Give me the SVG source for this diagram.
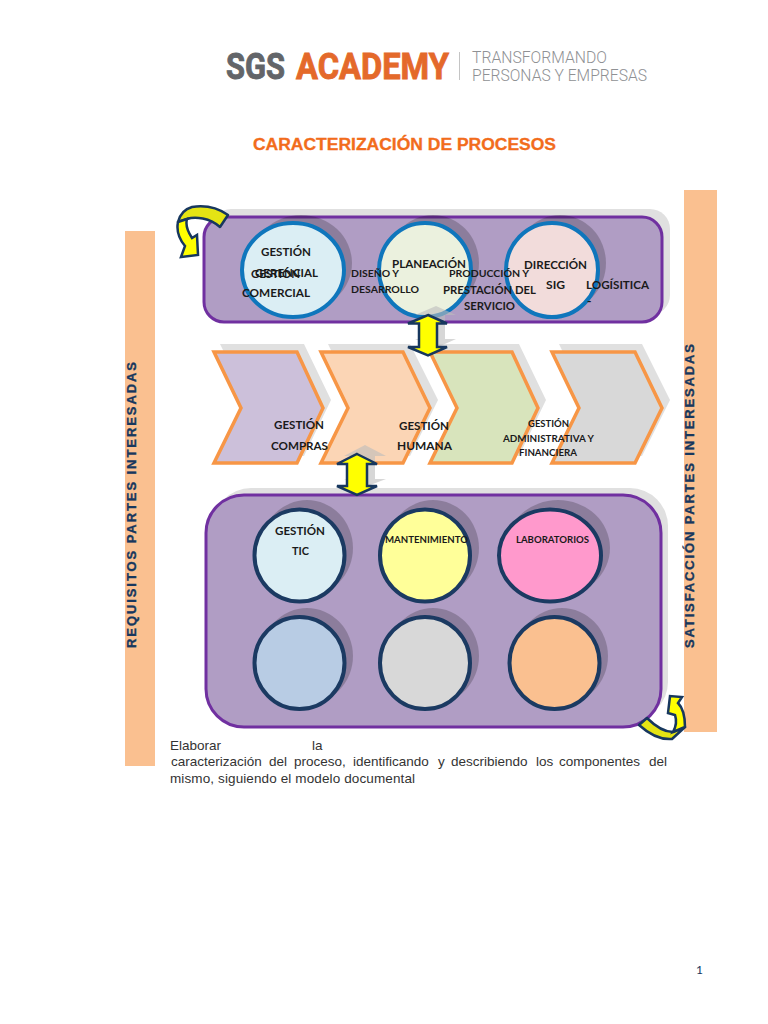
<svg xmlns="http://www.w3.org/2000/svg" width="768" height="1024" viewBox="0 0 768 1024">
<style>
text{font-family:"Lato","Open Sans","Liberation Sans",sans-serif;font-weight:700;fill:#1a1a1a}
.lb{font-size:12px}
.sm{font-size:10px}
.body{font-family:"Liberation Sans",Arial,sans-serif;font-weight:400;font-size:13.500px;fill:#333}
.side{font-family:"Liberation Sans",Arial,sans-serif;font-weight:700;font-size:13px;fill:#17375e;stroke:#17375e;stroke-width:.35}
.logo{font-family:"Roboto","Liberation Sans",sans-serif}
.sub{font-family:"Roboto","Liberation Sans",sans-serif;font-weight:300;font-size:17px;fill:#8f9194}
.bar{fill:#fac090}
.panel{fill:#b09dc4;stroke:#7030a0;stroke-width:3}
.pshadow{fill:#e0e0e0}
.cs{fill:#000;opacity:.2}
.ct{stroke:#0f76bc;stroke-width:4}
.cb{stroke:#1b3a62;stroke-width:4}
.chev{stroke:#f79646;stroke-width:3.5;stroke-linejoin:miter}
.chs{fill:#e0e0e0}
.dbl{fill:#ffff00;stroke:#17375e;stroke-width:2.500;stroke-linejoin:miter}
.dbs{fill:#bdbdbd;opacity:.6}
.cur1{fill:#e4e414;stroke:#17375e;stroke-width:2.500;stroke-linejoin:round}
.cur2{fill:#ffff00;stroke:#17375e;stroke-width:2.500;stroke-linejoin:miter}
</style>
<rect width="768" height="1024" fill="#fff"/>

<g id="logo">
<text class="logo" x="226" y="79" font-size="37" style="fill:#636569;stroke:#636569;stroke-width:.9" textLength="59" lengthAdjust="spacingAndGlyphs">SGS</text>
<text class="logo" x="296" y="79" font-size="37" style="fill:#e4692a;stroke:#e4692a;stroke-width:.9" textLength="153" lengthAdjust="spacingAndGlyphs">ACADEMY</text>
<rect x="459" y="52" width="1" height="28" fill="#c4c4c4"/>
<text class="sub" x="472" y="63" textLength="135" lengthAdjust="spacingAndGlyphs">TRANSFORMANDO</text>
<text class="sub" x="472" y="81" textLength="175" lengthAdjust="spacingAndGlyphs">PERSONAS Y EMPRESAS</text>
</g>
<text id="title" x="253" y="149.500" font-size="16" style="font-family:'Liberation Sans',Arial,sans-serif;fill:#f26c1c;stroke:#f26c1c;stroke-width:.3" textLength="303" lengthAdjust="spacingAndGlyphs">CARACTERIZACIÓN DE PROCESOS</text>

<g id="req">
<rect class="bar" x="125" y="231" width="30" height="535"/>
<text class="side" transform="translate(136,648) rotate(-90)" textLength="286" lengthAdjust="spacing">REQUISITOS PARTES INTERESADAS</text>
</g>
<g id="sat">
<rect class="bar" x="684" y="190" width="33" height="542"/>
<text class="side" transform="translate(694,648) rotate(-90)" textLength="304" lengthAdjust="spacing">SATISFACCIÓN PARTES INTERESADAS</text>
</g>

<g id="panel-top">
<rect class="pshadow" x="211" y="209" width="459" height="106" rx="20"/>
<rect class="panel" x="204" y="217" width="458" height="105" rx="20"/>
</g>
<g id="panel-bottom">
<rect class="pshadow" x="213" y="488" width="455" height="232" rx="38"/>
<rect class="panel" x="206" y="495" width="455" height="232" rx="38"/>
</g>

<g id="chev-1">
<polygon class="chs" points="220,344 304,344 331,400 304,456 220,456 248,400"/>
<polygon class="chev" fill="#ccc0da" points="214,352 297,352 323,408 297,463 214,463 241,408"/>
</g>
<g id="chev-2">
<polygon class="chs" points="328,344 410,344 438,400 410,456 328,456 355,400"/>
<polygon class="chev" fill="#fbd5b5" points="321,352 403,352 430,408 403,463 321,463 348,408"/>
</g>
<g id="chev-3">
<polygon class="chs" points="437,344 519,344 546,400 519,456 437,456 464,400"/>
<polygon class="chev" fill="#d8e4bc" points="430,352 512,352 538,408 512,463 430,463 457,408"/>
</g>
<g id="chev-4">
<polygon class="chs" points="559,344 642,344 670,400 642,456 559,456 586,400"/>
<polygon class="chev" fill="#d8d8d8" points="552,352 635,352 662,408 635,463 552,463 579,408"/>
</g>

<g id="c-top-1"><ellipse class="cs" cx="301" cy="263" rx="51" ry="48"/><ellipse class="ct" fill="#dbeef4" cx="293" cy="270" rx="51" ry="47"/></g>
<g id="c-top-2"><ellipse class="cs" cx="433" cy="263" rx="46" ry="48"/><ellipse class="ct" fill="#ebf1de" cx="425" cy="270" rx="46" ry="47"/></g>
<g id="c-top-3"><ellipse class="cs" cx="560" cy="263" rx="46" ry="48"/><ellipse class="ct" fill="#f2dcdb" cx="552" cy="270" rx="46" ry="47"/></g>

<g id="c-bot-1"><ellipse class="cs" cx="307" cy="548" rx="46" ry="48"/><ellipse class="cb" fill="#dbeef4" cx="299.500" cy="555.500" rx="45" ry="46"/></g>
<g id="c-bot-2"><ellipse class="cs" cx="433" cy="548" rx="46" ry="48"/><ellipse class="cb" fill="#ffff99" cx="425" cy="555.500" rx="45" ry="46"/></g>
<g id="c-bot-3"><ellipse class="cs" cx="558" cy="548" rx="52" ry="48"/><ellipse class="cb" fill="#ff99cc" cx="550" cy="555.500" rx="51" ry="46"/></g>
<g id="c-bot-4"><ellipse class="cs" cx="307" cy="656" rx="46" ry="48"/><ellipse class="cb" fill="#b8cce4" cx="299.500" cy="663" rx="45" ry="46"/></g>
<g id="c-bot-5"><ellipse class="cs" cx="433" cy="656" rx="46" ry="48"/><ellipse class="cb" fill="#d8d8d8" cx="425" cy="663" rx="45" ry="46"/></g>
<g id="c-bot-6"><ellipse class="cs" cx="562" cy="656" rx="46" ry="48"/><ellipse class="cb" fill="#fac090" cx="554.500" cy="663" rx="45" ry="46"/></g>

<g id="connectors">
<polygon class="dbs" points="436,306 456,315 445,315 445,339 456,339 436,348 415,339 427,339 427,315 415,315"/>
<polygon class="dbl" points="428,315 447,323.500 437,323.500 437,347 447,347 428,355.500 408,347 419,347 419,323.500 408,323.500"/>
<polygon class="dbs" points="365,445 386,456 375,456 375,479 386,479 365,487 344,479 355,479 355,456 344,456"/>
<polygon class="dbl" points="357,454 377,464 367,464 367,486 377,486 357,495 337,486 347,486 347,464 337,464"/>
<path class="cur1" d="M228,215 C218,208 205,205 192,207 C185,209 180,214 178,222 L187,219 C195,216 210,218 220,227 Z"/>
<path class="cur2" d="M178,222 C176,232 180,240 185,246 L181,257 L198,255 L197,235 L192,238 C188,232 185,226 187,219 Z"/>
<path class="cur1" d="M639,725 L647,718 C655,726 665,732 673,732 L685,727 L672,739 C660,740 650,735 639,725 Z"/>
<path class="cur2" d="M673,732 C677,725 676,718 675,715 L668,713 L670,696 L682,697 L678,703 C683,708 685,718 685,727 Z"/>
</g>

<g id="labels-top">
<text class="lb" x="261" y="256" textLength="50" lengthAdjust="spacingAndGlyphs">GESTIÓN</text>
<text class="lb" x="255" y="277" textLength="63" lengthAdjust="spacingAndGlyphs">GERENCIAL</text>
<text class="lb" x="251" y="278" textLength="49" lengthAdjust="spacingAndGlyphs">GESTIÓN</text>
<text class="lb" x="242" y="297" textLength="68" lengthAdjust="spacingAndGlyphs">COMERCIAL</text>
<text class="sm" x="351" y="277" textLength="48" lengthAdjust="spacingAndGlyphs">DISEÑO Y</text>
<text class="sm" x="351" y="293" textLength="68" lengthAdjust="spacingAndGlyphs">DESARROLLO</text>
<text class="lb" x="392" y="268" textLength="74" lengthAdjust="spacingAndGlyphs">PLANEACIÓN</text>
<text class="sm" x="449" y="277" textLength="80" lengthAdjust="spacingAndGlyphs">PRODUCCIÓN Y</text>
<text class="lb" x="443" y="294" textLength="93" lengthAdjust="spacingAndGlyphs">PRESTACIÓN DEL</text>
<text class="lb" x="464" y="310" textLength="51" lengthAdjust="spacingAndGlyphs">SERVICIO</text>
<text class="lb" x="524" y="269" textLength="63" lengthAdjust="spacingAndGlyphs">DIRECCIÓN</text>
<text class="lb" x="546" y="289" textLength="19" lengthAdjust="spacingAndGlyphs">SIG</text>
<text class="lb" x="586" y="289" textLength="63" lengthAdjust="spacingAndGlyphs">LOGÍSITICA</text>
<text class="lb" x="587" y="305">-</text>
</g>
<g id="labels-chev">
<text class="lb" x="274" y="429" textLength="50" lengthAdjust="spacingAndGlyphs">GESTIÓN</text>
<text class="lb" x="271" y="450" textLength="57" lengthAdjust="spacingAndGlyphs">COMPRAS</text>
<text class="lb" x="399" y="430" textLength="50" lengthAdjust="spacingAndGlyphs">GESTIÓN</text>
<text class="lb" x="397" y="450" textLength="55" lengthAdjust="spacingAndGlyphs">HUMANA</text>
<text class="sm" x="528" y="427" textLength="41" lengthAdjust="spacingAndGlyphs">GESTIÓN</text>
<text class="sm" x="503" y="442" textLength="91" lengthAdjust="spacingAndGlyphs">ADMINISTRATIVA Y</text>
<text class="sm" x="519" y="456" textLength="58" lengthAdjust="spacingAndGlyphs">FINANCIERA</text>
</g>
<g id="labels-bottom">
<text class="lb" x="275" y="535" textLength="50" lengthAdjust="spacingAndGlyphs">GESTIÓN</text>
<text class="lb" x="292" y="555" textLength="17" lengthAdjust="spacingAndGlyphs">TIC</text>
<text class="sm" x="385" y="543" textLength="83" lengthAdjust="spacingAndGlyphs">MANTENIMIENTO</text>
<text class="sm" x="516" y="543" textLength="73" lengthAdjust="spacingAndGlyphs">LABORATORIOS</text>
</g>

<g id="body">
<text class="body" x="170" y="750">Elaborar</text>
<text class="body" x="312" y="750">la</text>
<text class="body" y="766"><tspan x="171">caracterización</tspan> <tspan x="269">del</tspan> <tspan x="294">proceso,</tspan> <tspan x="353">identificando</tspan> <tspan x="438">y</tspan> <tspan x="451">describiendo</tspan> <tspan x="536">los</tspan> <tspan x="559">componentes</tspan> <tspan x="649">del</tspan></text>
<text class="body" x="170" y="783" textLength="245" lengthAdjust="spacing">mismo, siguiendo el modelo documental</text>
</g>
<text id="page" x="696" y="974" font-size="12" style="font-family:'Lato',sans-serif;font-weight:400;fill:#17375e">1</text>
</svg>
